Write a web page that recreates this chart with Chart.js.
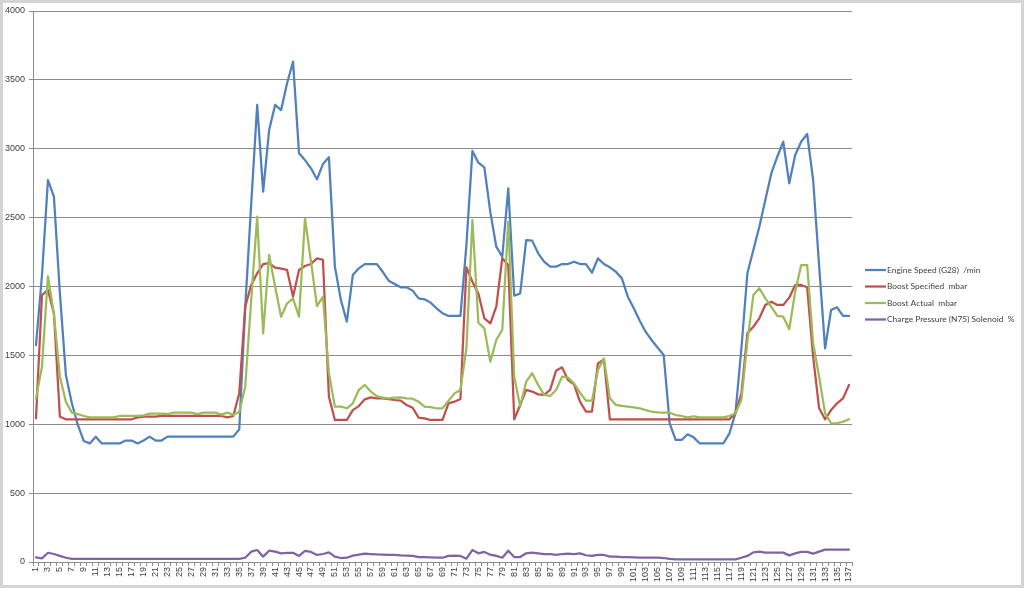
<!DOCTYPE html>
<html><head><meta charset="utf-8">
<script src="https://cdn.jsdelivr.net/npm/chart.js@4/dist/chart.umd.min.js"></script>
<style>html,body{margin:0;padding:0;background:#fff;overflow:hidden}canvas{display:block}</style>
</head><body>
<canvas id="c" width="1024" height="589"></canvas>
<script>
const categories = Array.from({length:137},(_,i)=>String(i+1));
const yTicks = [0,500,1000,1500,2000,2500,3000,3500,4000];
const seriesNames = ["Engine Speed (G28)  /min","Boost Specified  mbar","Boost Actual  mbar","Charge Pressure (N75) Solenoid  %"];
const seriesColors = ["#4F81BD","#C0504D","#9BBB59","#8064A2"];

const engineSpeed = [
1575,2080,2773,2652,1950,1358,1152,995,878,861,
910,861,861,861,861,882,882,861,882,910,
882,882,910,910,910,910,910,910,910,910,
910,910,910,910,963,1850,2600,3318,2689,3136,
3318,3281,3475,3632,2967,2918,2858,2778,2889,2938,
2144,1902,1745,2083,2132,2163,2163,2163,2107,2042,
2018,1994,1994,1970,1914,1907,1883,1842,1806,1786,
1786,1786,2300,2984,2899,2865,2540,2289,2216,2713,
1933,1950,2337,2333,2241,2180,2144,2144,2163,2163,
2180,2163,2163,2100,2204,2163,2139,2107,2059,1926,
1842,1752,1670,1610,1555,1503,1007,886,886,927,
905,862,862,862,862,862,934,1080,1550,2096,
2265,2434,2628,2821,2942,3051,2749,2955,3051,3107,
2773,2150,1551,1829,1849,1786,1786];

const boostSpecified = [
1043,1938,1975,1805,1055,1036,1036,1036,1036,1036,
1036,1036,1036,1036,1036,1036,1036,1050,1055,1055,
1055,1060,1060,1060,1060,1060,1060,1060,1060,1060,
1060,1060,1050,1060,1225,1853,2011,2096,2163,2170,
2137,2130,2120,1926,2120,2149,2163,2204,2194,1200,
1031,1031,1031,1103,1132,1181,1195,1188,1188,1183,
1176,1171,1140,1120,1048,1043,1031,1031,1031,1152,
1164,1183,2139,2035,1950,1769,1733,1854,2205,2156,
1036,1140,1249,1237,1217,1213,1249,1389,1413,1321,
1290,1164,1092,1092,1442,1471,1036,1036,1036,1036,
1036,1036,1036,1036,1036,1036,1036,1036,1036,1036,
1036,1036,1036,1036,1036,1036,1036,1079,1224,1660,
1708,1769,1866,1890,1866,1866,1919,2011,2011,1994,
1491,1116,1036,1103,1152,1188,1285];

const boostActual = [
1188,1418,2075,1800,1345,1164,1084,1074,1060,1050,
1050,1050,1050,1050,1060,1060,1060,1060,1065,1077,
1077,1077,1074,1084,1084,1084,1084,1074,1084,1084,
1084,1070,1084,1070,1089,1273,1902,2507,1660,2229,
1999,1781,1878,1912,1781,2495,2180,1858,1926,1370,
1128,1128,1116,1152,1249,1285,1237,1205,1193,1188,
1193,1195,1188,1186,1164,1128,1125,1116,1116,1170,
1224,1249,1552,2483,1737,1696,1454,1612,1684,2470,
1345,1128,1310,1370,1285,1213,1205,1249,1345,1338,
1297,1229,1171,1171,1394,1478,1188,1140,1133,1128,
1123,1116,1103,1091,1087,1084,1084,1067,1060,1050,
1058,1050,1050,1050,1050,1050,1060,1079,1176,1600,
1938,1987,1914,1853,1786,1781,1689,1962,2156,2156,
1588,1345,1079,1007,1007,1019,1036];

const chargePressure = [
34,26,67,58,44,31,22,22,22,22,
22,22,22,22,22,22,22,22,22,22,
22,22,22,22,22,22,22,22,22,22,
22,22,22,22,22,31,75,87,39,82,
75,63,67,67,44,80,73,51,58,70,
39,29,31,46,53,61,58,55,53,51,
51,48,46,44,36,36,34,31,31,44,
46,44,24,87,63,73,53,44,31,82,
36,36,63,68,63,58,58,51,58,60,
58,63,49,44,51,51,39,39,36,36,
34,31,31,31,31,29,22,19,19,19,
19,19,19,19,19,19,19,19,31,44,
70,75,68,68,68,68,48,63,73,73,
61,75,90,90,90,90,90];

const seriesValues = [engineSpeed, boostSpecified, boostActual, chargePressure];

const FONT = "'Liberation Sans', Arial, sans-serif";
const LFONT = "Lato, 'Liberation Sans', sans-serif";
const TEXT = '#404040';
const GRID = '#8c8c8c';

const framePlugin = {
  id:'frame',
  beforeDraw(chart){
    const c = chart.ctx;
    c.save();
    c.fillStyle = '#fff';
    c.fillRect(0,0,chart.width,chart.height);
    c.strokeStyle = '#d4d4d4';
    c.lineWidth = 3;
    c.strokeRect(1.5,1.5,1021,585);
    c.restore();
  }
};

const legendPlugin = {
  id:'sideLegend',
  afterDraw(chart){
    const c = chart.ctx;
    c.save();
    c.font = '8.4px ' + LFONT;
    c.textBaseline = 'middle';
    chart.data.datasets.forEach((ds,i)=>{
      const y = 270 + i*16.5;
      c.strokeStyle = ds.borderColor;
      c.lineWidth = 2.25;
      c.beginPath(); c.moveTo(865,y); c.lineTo(886,y); c.stroke();
      c.fillStyle = TEXT;
      c.fillText(ds.label, 887, y);
    });
    c.restore();
  }
};

const datasets = seriesValues.map((vals,i)=>({
  label: seriesNames[i],
  data: vals,
  borderColor: seriesColors[i],
  backgroundColor: seriesColors[i],
  borderWidth: 2.25,
  pointRadius: 0,
  pointHoverRadius: 0,
  tension: 0,
  borderJoinStyle: 'round',
  borderCapStyle: 'round',
  fill: false,
  order: 4 - i
}));

new Chart(document.getElementById('c'), {
  type: 'line',
  data: { labels: categories, datasets },
  options: {
    responsive: false,
    animation: false,
    devicePixelRatio: 1,
    layout: { padding: { left: 0, top: 11, right: 172, bottom: 0 } },
    plugins: { legend: { display: false }, tooltip: { enabled: false } },
    scales: {
      x: {
        type: 'category',
        offset: true,
        grid: { display: true, drawOnChartArea: false, drawTicks: true, tickLength: 4, offset: true, color: GRID },
        border: { display: true, color: GRID, width: 1 },
        ticks: {
          autoSkip: false, maxRotation: 90, minRotation: 90, padding: 1,
          color: TEXT, font: { family: FONT, size: 9 },
          callback: (v, idx) => idx % 2 === 0 ? categories[idx] : ''
        },
        afterFit(scale){ scale.height = 27; }
      },
      y: {
        min: 0, max: 4000,
        afterBuildTicks(scale){ scale.ticks = yTicks.map(v=>({value:v})); },
        grid: { color: GRID, tickLength: 4, drawTicks: true },
        border: { display: true, color: GRID, width: 1 },
        ticks: { color: TEXT, font: { family: FONT, size: 9 }, padding: 4, callback: (v) => String(v) },
        afterFit(scale){ scale.width = 33; }
      }
    }
  },
  plugins: [framePlugin, legendPlugin]
});
</script>
</body></html>
